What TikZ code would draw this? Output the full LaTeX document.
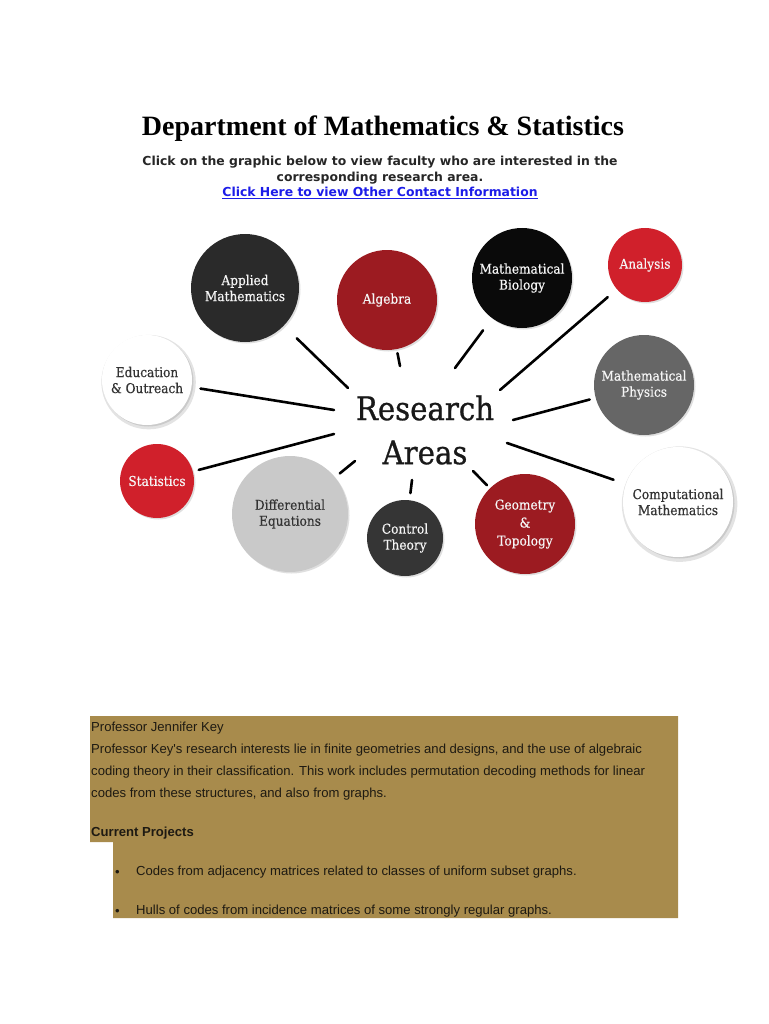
\documentclass[tikz,border=0pt]{standalone}
\usepackage{fontspec}
\usepackage{tikz}
\usetikzlibrary{shadows}
\setmainfont{Liberation Serif}
\newfontfamily\areafont[FakeBold=0.4]{DejaVu Serif Condensed}
\newfontfamily\hubfont[FakeBold=0.8]{DejaVu Serif Condensed}
\newfontfamily\verdfont{DejaVu Sans}
\newfontfamily\arialfont{Liberation Sans}

\definecolor{darkred}{HTML}{9C1B21}
\definecolor{brightred}{HTML}{D0202B}
\definecolor{charcoal}{HTML}{2A2A2A}
\definecolor{nearblack}{HTML}{0A0A0A}
\definecolor{midgray}{HTML}{666666}
\definecolor{palegray}{HTML}{C9C9C9}
\definecolor{ctrlgray}{HTML}{353535}
\definecolor{boxtan}{HTML}{A88B4C}
\definecolor{linkblue}{HTML}{1C1CE8}
\definecolor{bodyink}{HTML}{1E1A12}

\begin{document}
\begin{tikzpicture}[x=1pt, y=-1pt,
  area/.style={circle, inner sep=0pt, minimum size=#1, align=center,
    font=\areafont\fontsize{13.5}{16}\selectfont,
    drop shadow={opacity=0.25, shadow xshift=1.5pt, shadow yshift=-1.5pt}},
  whitearea/.style={area=#1, fill=white, text=black!80,
    drop shadow={opacity=0.22, shadow scale=1.05, shadow xshift=1.5pt, shadow yshift=-2pt}},
  lighttext/.style={text=white!92!gray},
  darktext/.style={text=black!80},
  spoke/.style={line width=2.6pt, line cap=round},
  body/.style={anchor=west, inner sep=0pt, text=bodyink,
    font=\arialfont\fontsize{13.1}{15}\selectfont}]

\useasboundingbox (0,0) rectangle (768,1024);

% Heading
\node[font=\bfseries\fontsize{28}{30}\selectfont] at (383,129) (title)
  {Department of Mathematics \& Statistics};
\node[font=\verdfont\bfseries\fontsize{12.4}{15.5}\selectfont, align=center, text=black!85]
  at (380,170) (intro)
  {Click on the graphic below to view faculty who are interested in the\\
   corresponding research area.};
\node[font=\verdfont\bfseries\fontsize{12.4}{14}\selectfont, text=linkblue] at (380,193) (link)
  {\underline{Click Here to view Other Contact Information}};

% Centre
\node[font=\hubfont\fontsize{32.5}{44}\selectfont, align=center, text=black!90]
  at (425,430) (hub) {Research\\Areas};

% Research areas
\node[area=108, fill=charcoal, lighttext] at (245,288) (app) {Applied\\Mathematics};
\node[area=100, fill=darkred, lighttext] at (387,300) (alg) {Algebra};
\node[area=100, fill=nearblack, lighttext] at (522,278) (bio) {Mathematical\\Biology};
\node[area=74, fill=brightred, lighttext] at (645,265) (ana) {Analysis};
\node[whitearea=90] at (147,380) (edu) {Education\\\& Outreach};
\node[area=100, fill=midgray, lighttext] at (644,385) (phy) {Mathematical\\Physics};
\node[area=74, fill=brightred, lighttext] at (157,481) (sta) {Statistics};
\node[area=116, fill=palegray, darktext] at (290,514) (dif) {Differential\\Equations};
\node[area=76, fill=ctrlgray, lighttext] at (405,538) (con) {Control\\Theory};
\node[area=100, fill=darkred, lighttext] at (525,524) (geo)
  {Geometry\\[2pt]\&\\[2pt]Topology};
\node[whitearea=110] at (678,502) (cmp) {Computational\\Mathematics};

% Inner ends of the spokes
\coordinate (app-in) at (348,388);
\coordinate (alg-in) at (400,366);
\coordinate (bio-in) at (455,368);
\coordinate (ana-in) at (500,390);
\coordinate (edu-in) at (334,410);
\coordinate (phy-in) at (513,420);
\coordinate (sta-in) at (334,434);
\coordinate (dif-in) at (355,461);
\coordinate (con-in) at (412,480);
\coordinate (geo-in) at (473,471);
\coordinate (cmp-in) at (507,443);

% Spokes
\foreach \a/\gap in {app/18, alg/4, bio/15, ana/12, edu/9, phy/6,
                     sta/6, dif/6, con/7, geo/4, cmp/13} {
  \draw[spoke, shorten <=\gap pt] (\a) -- (\a-in);
}

% Faculty box
\fill[boxtan] (90,716) -- (678,716) -- (678,918) -- (113,918)
  -- (113,842) -- (90,842) -- cycle;

\node[body] at (91,728) (name) {Professor Jennifer Key};
\node[body] at (91,750) (line1)
  {Professor Key's research interests lie in finite geometries and designs, and the use of algebraic};
\node[body] at (91,772) (line2)
  {coding theory in their classification. This work includes permutation decoding methods for linear};
\node[body] at (91,794) (line3) {codes from these structures, and also from graphs.};
\node[body, font=\arialfont\bfseries\fontsize{13.1}{15}\selectfont] at (91,833) (proj)
  {Current Projects};
\node[body] at (115,873) (dot1) {\textbullet};
\node[body] at (136,872) (item1)
  {Codes from adjacency matrices related to classes of uniform subset graphs.};
\node[body] at (115,912) (dot2) {\textbullet};
\node[body] at (136,911) (item2)
  {Hulls of codes from incidence matrices of some strongly regular graphs.};

\end{tikzpicture}
\end{document}
